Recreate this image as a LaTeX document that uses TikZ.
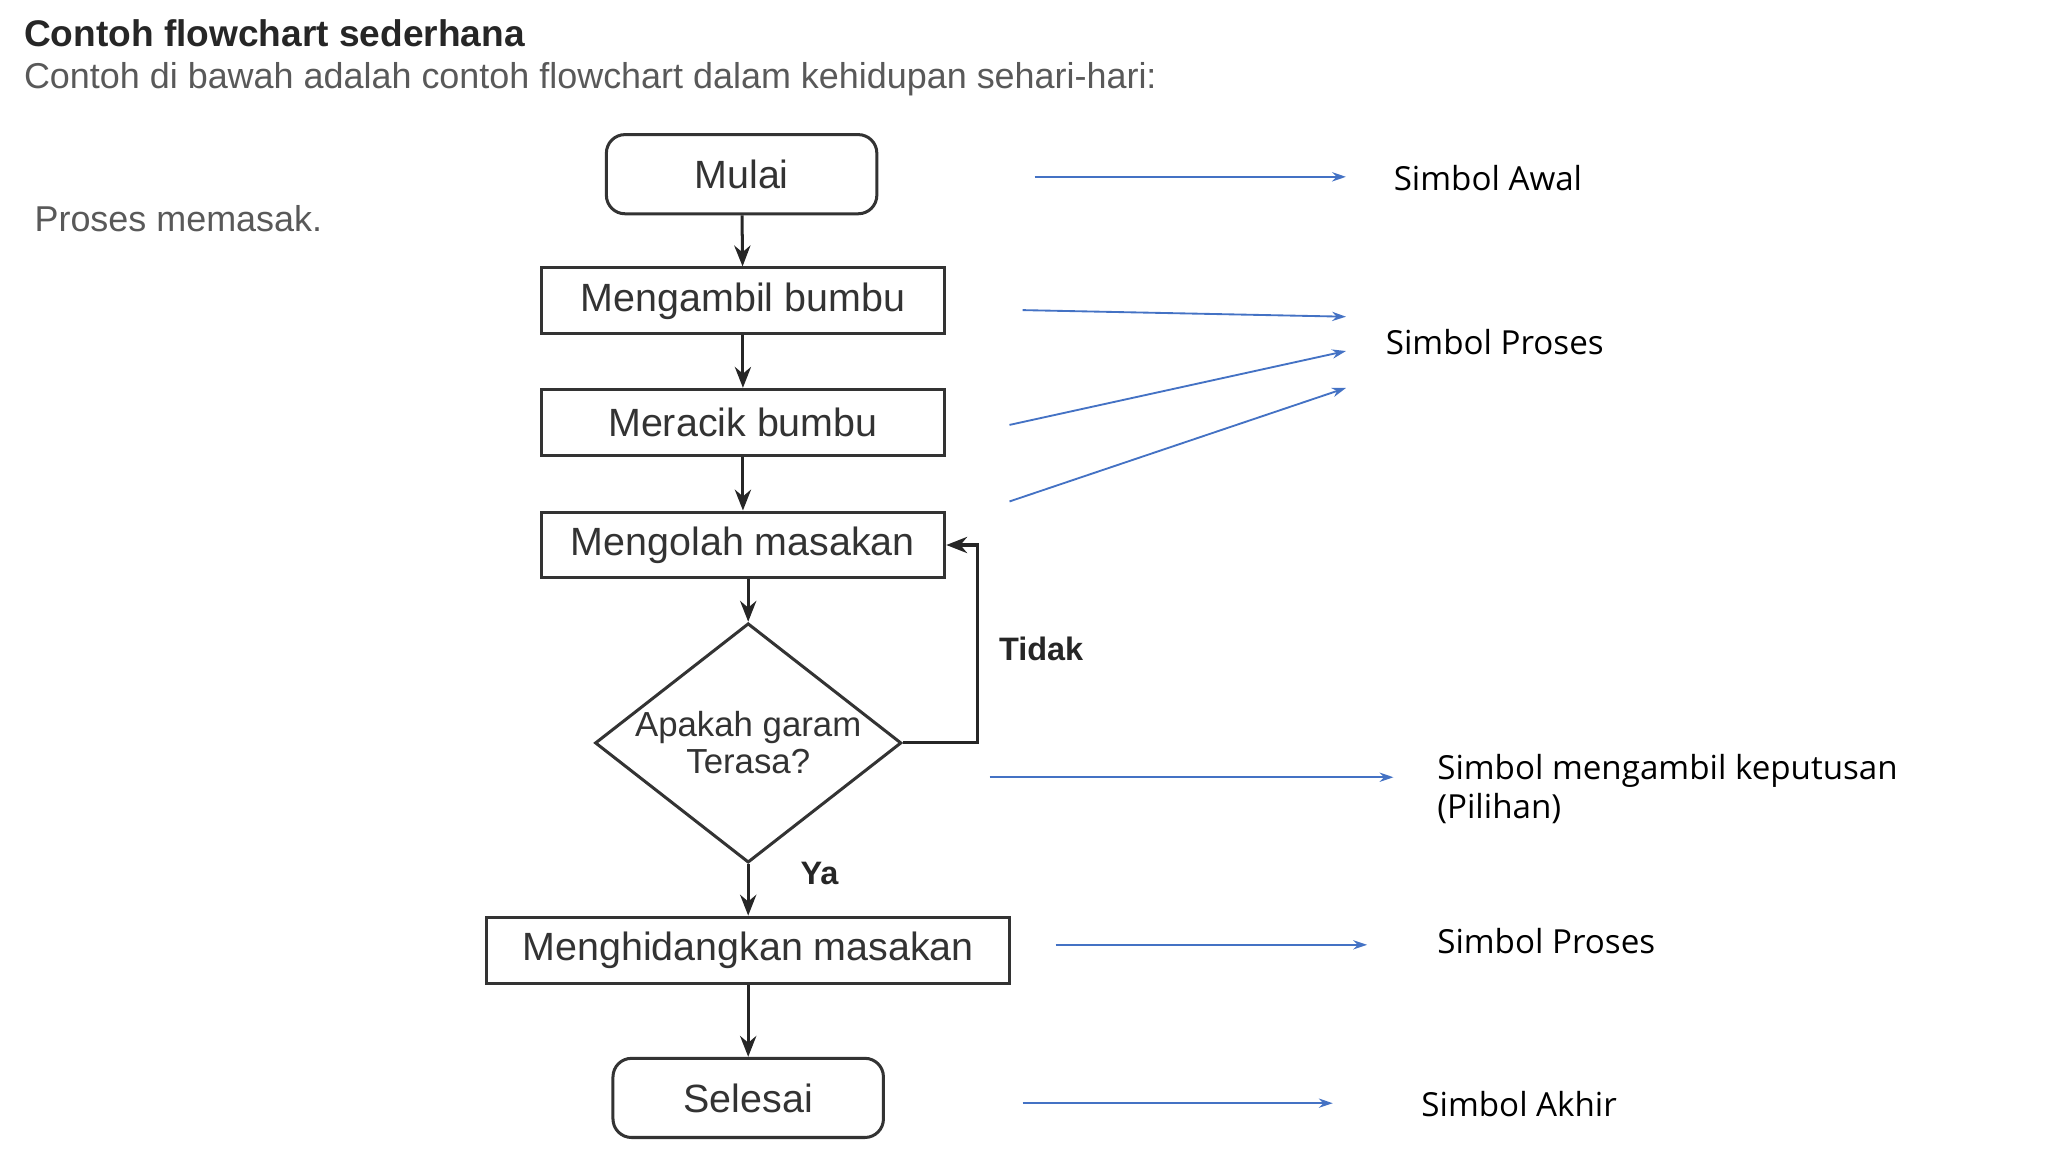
\documentclass[tikz,border=0pt]{standalone}
\usepackage{fontspec}
\setmainfont{Liberation Sans}
\newfontfamily\lab{Open Sans}
\usetikzlibrary{shapes.geometric,arrows.meta}
\definecolor{gtxt}{HTML}{595959}
\definecolor{bl}{HTML}{4472C4}
\begin{document}
\begin{tikzpicture}[x=0.02cm,y=-0.02cm,
 fc/.style={draw=black!80,line width=1.3pt,fill=white,font=\fontsize{17}{20}\selectfont,text=black!80},
 term/.style={fc,rounded corners=8pt,minimum width=4.1cm,minimum height=1.2cm},
 proc/.style={fc,minimum height=1.0cm},
 dec/.style={fc,diamond,aspect=1.28,minimum width=4.36cm,inner sep=0pt,align=center,font=\fontsize{15}{16}\selectfont},
 fa/.style={-{Stealth[length=9pt,width=7pt]},line width=1.3pt,black!85},
 ba/.style={-{Stealth[length=6pt,width=4pt]},bl,line width=0.8pt},
 rl/.style={anchor=west,font=\lab\fontsize{14.3}{17}\selectfont,text=black}]
\useasboundingbox (0,0) rectangle (1552,873);
\node[anchor=west,font=\bfseries\fontsize{16}{19}\selectfont,text=black!85] (t1) at (12,25) {Contoh flowchart sederhana};
\node[anchor=west,font=\fontsize{15.5}{19}\selectfont,text=gtxt] (t2) at (12,60) {Contoh di bawah adalah contoh flowchart dalam kehidupan sehari-hari:};
\node[anchor=west,font=\fontsize{15.5}{19}\selectfont,text=gtxt] (t3) at (20,166) {Proses memasak.};
\node[term] (a) at (562,132) {Mulai};
\node[proc,minimum width=6.12cm] (b) at (563,228) {Mengambil bumbu};
\node[proc,minimum width=6.12cm] (c) at (563,320) {Meracik bumbu};
\node[proc,minimum width=6.12cm] (d) at (563,413) {Mengolah masakan};
\node[dec] (e) at (567,563) {Apakah garam\\Terasa?};
\node[proc,minimum width=7.92cm] (f) at (567,720) {Menghidangkan masakan};
\node[term] (g) at (567,832) {Selesai};
\draw[fa] (a) -- (b);
\draw[fa] (b) -- (c);
\draw[fa] (c) -- (d);
\draw[fa] (d.south -| e.north) -- (e.north);
\draw[fa] (e) -- (f);
\draw[fa] (f) -- (g);
\coordinate (k) at (741,563);
\draw[fa] (e.east) -- (k) |- (d.east);
\node[font=\bfseries\fontsize{14}{16}\selectfont,text=black!85] (td) at (789,492) {Tidak};
\node[font=\bfseries\fontsize{14}{16}\selectfont,text=black!85] (ya) at (621,662) {Ya};
\coordinate (s1) at (784,134); \coordinate (e1) at (1020,134);
\coordinate (s2) at (775,235); \coordinate (e2) at (1020,240);
\coordinate (s3) at (765,322); \coordinate (e3) at (1020,266);
\coordinate (s4) at (765,380); \coordinate (e4) at (1020,294);
\coordinate (s5) at (750,589); \coordinate (e5) at (1056,589);
\coordinate (s6) at (800,716); \coordinate (e6) at (1036,716);
\coordinate (s7) at (775,836); \coordinate (e7) at (1010,836);
\foreach \i in {1,...,7} \draw[ba] (s\i) -- (e\i);
\node[rl] (l1) at (1050,135) {Simbol Awal};
\node[rl] (l2) at (1044,259) {Simbol Proses};
\node[rl,align=left] (l3) at (1083,598) {Simbol mengambil keputusan\\(Pilihan)};
\node[rl] (l4) at (1083,713) {Simbol Proses};
\node[rl] (l5) at (1071,837) {Simbol Akhir};
\end{tikzpicture}
\end{document}
